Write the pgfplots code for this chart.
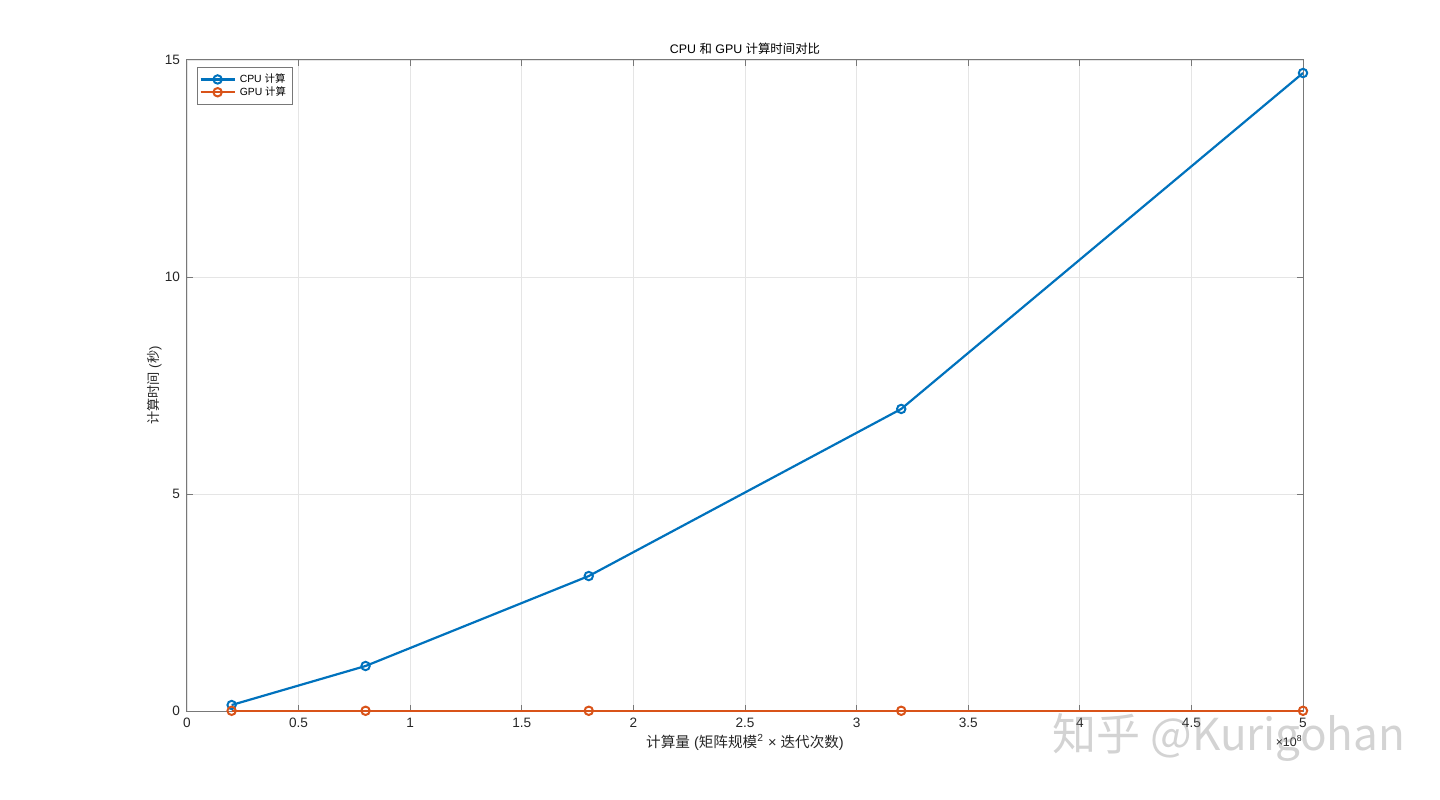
\documentclass[border=0pt]{standalone}
\usepackage{fontspec}
\setmainfont{Liberation Sans}
\newfontfamily\cjk{Noto Sans CJK SC}
\usepackage{pgfplots}
\pgfplotsset{compat=1.18}
\definecolor{mblue}{RGB}{0,114,189}
\definecolor{morange}{RGB}{217,83,25}
\definecolor{axgray}{RGB}{120,120,120}
\begin{document}
\begin{tikzpicture}
\path[use as bounding box] (-93.5pt,-44pt) rectangle (626.5pt,355.5pt);
\begin{axis}[
  at={(0,0)}, anchor=south west,
  scale only axis, width=558pt, height=325.5pt,
  xmin=0, xmax=5, ymin=0, ymax=15,
  xtick={0,0.5,1,1.5,2,2.5,3,3.5,4,4.5,5},
  xticklabels={0,0.5,1,1.5,2,2.5,3,3.5,4,4.5,5},
  ytick={0,5,10,15},
  yticklabels={0,5,10,15},
  grid=major, grid style={black!10, line width=0.4pt},
  axis line style={axgray, line width=0.5pt},
  tick style={axgray, line width=0.5pt},
  tick align=inside, major tick length=3pt,
  xtick pos=both, ytick pos=both,
  ticklabel style={font=\fontsize{6.8}{8}\selectfont, text=black!85},
  /pgf/number format/assume math mode=true,
  title={CPU {\cjk 和} GPU {\cjk 计算时间对比}},
  title style={at={(axis description cs:0.5,1)}, anchor=south, yshift=-7pt, font=\fontsize{6.2}{7}\selectfont},
  xlabel={{\cjk 计算量} ({\cjk 矩阵规模}\textsuperscript{2} × {\cjk 迭代次数})},
  xlabel style={at={(axis description cs:0.5,-0.049)}, anchor=center, font=\fontsize{7.3}{8}\selectfont, text=black!85},
  ylabel={{\cjk 计算时间} ({\cjk 秒})},
  ylabel style={at={(axis description cs:-0.029,0.5)}, anchor=center, font=\fontsize{6.6}{8}\selectfont, text=black!85},
  legend style={at={(axis description cs:0.009,0.989)}, anchor=north west, font=\fontsize{5.2}{6}\selectfont, draw=axgray, inner sep=1pt, row sep=-3.5pt, cells={anchor=west}},
  legend cell align=left,
]
\addplot[mblue, line width=1.1pt, mark=o, mark size=2.1pt, mark options={line width=1pt}] coordinates {
  (0.2,0.138) (0.8,1.037) (1.8,3.11) (3.2,6.96) (5.0,14.70)
};
\addlegendentry{CPU {\cjk 计算}}
\addplot[morange, line width=1.1pt, mark=o, mark size=2.1pt, mark options={line width=1pt}] coordinates {
  (0.2,0.005) (0.8,0.005) (1.8,0.005) (3.2,0.005) (5.0,0.005)
};
\addlegendentry{GPU {\cjk 计算}}
\end{axis}
\node[anchor=east, font=\fontsize{6.2}{7}\selectfont, text=black!85, inner sep=0pt] at (558pt,-15pt) {×10\textsuperscript{8}};
\node[text=gray, opacity=0.35, font=\cjk\fontsize{22}{22}\selectfont, inner sep=0pt] at (521pt,-13pt) {知乎 @Kurigohan};
\end{tikzpicture}
\end{document}
